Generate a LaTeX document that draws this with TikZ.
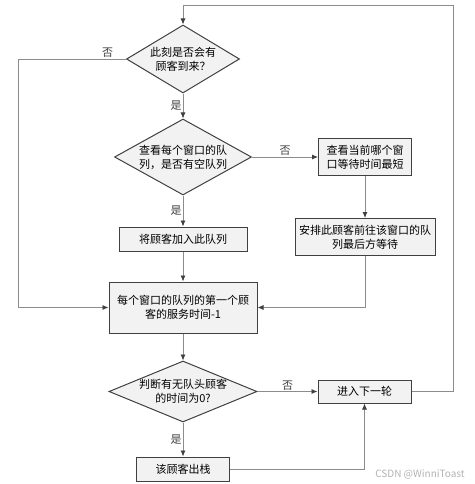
\documentclass[tikz,border=0pt]{standalone}
\usepackage{fontspec}
\setmainfont{Noto Sans CJK SC}
\usetikzlibrary{arrows.meta,shapes.geometric,positioning}
\definecolor{boxfill}{HTML}{F2F2F2}
\definecolor{boxline}{HTML}{404040}
\definecolor{edgeline}{HTML}{8C8C8C}
\tikzstyle{decision} = [diamond, draw=boxline, fill=boxfill, line width=1pt,
    align=center, inner sep=0pt, font=\fontsize{11pt}{14pt}\selectfont]
\tikzstyle{block} = [rectangle, draw=boxline, fill=boxfill, line width=1pt,
    align=center, inner sep=3pt, font=\fontsize{11pt}{14pt}\selectfont]
\tikzstyle{line} = [draw=edgeline, line width=0.8pt,
    -{Latex[length=6pt,width=5pt,color=boxline]}]
\tikzstyle{tag} = [font=\fontsize{11pt}{14pt}\selectfont, text=boxline, inner sep=1pt]

\begin{document}
\begin{tikzpicture}[node distance = 25pt, auto]
        \useasboundingbox (0,0) rectangle (474pt,-484pt);
        % Place nodes
        \node [decision, minimum width=113pt, minimum height=68pt, aspect=1.66] (arrive) at (183pt,-59pt) {此刻是否会有\\顾客到来？};
        \node [decision, below=25pt of arrive, minimum width=137pt, minimum height=76pt, aspect=1.8] (check) {查看每个窗口的队\\列，是否有空队列};
        \node [block, below=31pt of check, minimum width=128pt, minimum height=24pt] (join) {将顾客加入此队列};
        \node [block, right=66pt of check, minimum width=93pt, minimum height=37pt] (shortest) {查看当前哪个窗\\口等待时间最短};
        \node [block, below=42pt of shortest, minimum width=140pt, minimum height=37pt] (assign) {安排此顾客前往该窗口的队\\列最后方等待};
        \node [block, below=30pt of join, minimum width=148pt, minimum height=51pt] (serve) {每个窗口的队列的第一个顾\\客的服务时间-1};
        \node [decision, below=27pt of serve, minimum width=148pt, minimum height=61pt, aspect=2.43] (finish) {判断有无队头顾客\\的时间为0?};
        \node [block, right=60pt of finish, minimum width=93pt, minimum height=23pt] (next) {进入下一轮};
        \node [block, below=34pt of finish, minimum width=93pt, minimum height=24pt] (pop) {该顾客出栈};
        \node [font=\fontsize{10pt}{12pt}\selectfont, text=black!30] (mark) at (420pt,-474pt) {CSDN @WinniToast};
        \coordinate (loop) at (453pt,-5pt);
        % Draw edges
        \path [line] (arrive) -- node [tag, left] {是} (check);
        \path [line] (arrive.west) -- node [tag, above, pos=0.17] {否} ++(-108pt,0) |- (serve.west);
        \path [line] (check) -- node [tag, left] {是} (join);
        \path [line] (check) -- node [tag, above] {否} (shortest);
        \path [line] (shortest) -- (assign);
        \path [line] (assign) |- (serve);
        \path [line] (join) -- (serve);
        \path [line] (serve) -- (finish);
        \path [line] (finish) -- node [tag, above] {否} (next);
        \path [line] (finish) -- node [tag, left] {是} (pop);
        \path [line] (pop) -| (next);
        \path [line] (next) -| (loop) -| (arrive);
    \end{tikzpicture}
\end{document}
